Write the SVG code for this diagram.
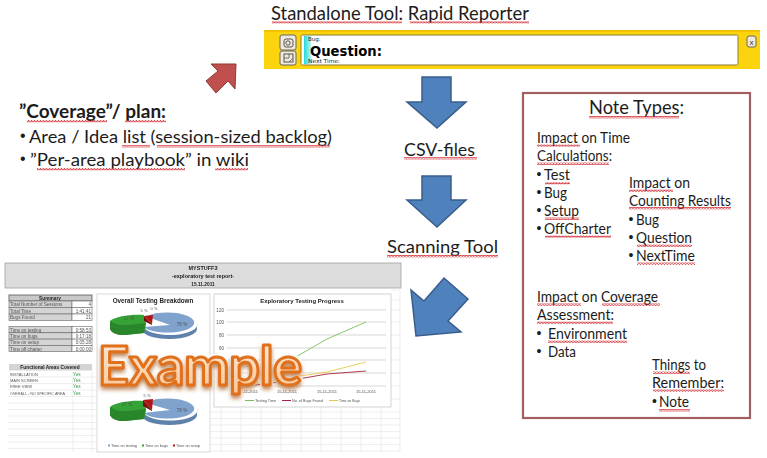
<svg xmlns="http://www.w3.org/2000/svg" width="767" height="458" viewBox="0 0 767 458">
<style>
.t{font-family:"Lato","Liberation Sans",sans-serif;fill:#1c1c1c}
.h{font-size:20px}.b{font-size:18px}.n{font-size:15.5px}
.bb{font-family:"Liberation Sans",sans-serif;font-size:16px;fill:#1c1c1c}
.bn{font-family:"Liberation Sans",sans-serif;font-size:14px;fill:#1c1c1c}
.r{font-family:"Liberation Sans",sans-serif;fill:#555;font-size:4.600px}
.rb{font-family:"Liberation Sans",sans-serif;fill:#222;font-size:6px;font-weight:bold}
.sq{fill:url(#sq)}
.ar{fill:#4f81bd;stroke:#385d8a;stroke-width:1.5}
.g{stroke:#e6e6e6;stroke-width:.7;fill:none}
.gc{stroke:#c4c4c4;stroke-width:.7;fill:none}
.cell{fill:#d4d4d4;stroke:#666;stroke-width:.6}
.val{fill:#fff;stroke:#666;stroke-width:.6}
.btn{fill:#efeadb;stroke:#666;stroke-width:1}
</style>
<defs>
<pattern id="sq" width="3" height="2.4" patternUnits="userSpaceOnUse"><path d="M0 2 L1.500 .5 L3 2" fill="none" stroke="#d0242a" stroke-width=".85"/></pattern>
<linearGradient id="ex" x1="0" y1="0" x2="0" y2="1"><stop offset="0" stop-color="#fdeedd"/><stop offset="1" stop-color="#f9c592"/></linearGradient>
<linearGradient id="cy" x1="0" y1="0" x2="1" y2="0"><stop offset="0" stop-color="#22d8dc"/><stop offset="1" stop-color="#bff4f4"/></linearGradient>
<filter id="glow" x="-10%" y="-20%" width="120%" height="150%"><feDropShadow dx="0" dy="3" stdDeviation="2" flood-color="#a85a1c" flood-opacity=".75"/></filter>
<filter id="soft" x="-5%" y="-5%" width="110%" height="110%"><feGaussianBlur stdDeviation=".35"/></filter>
</defs>
<rect width="767" height="458" fill="#fff"/>

<g id="connectors">
<path class="ar" d="M422 77H451V102H466L437 128L407 102H422Z"/>
<path class="ar" d="M422 176H451V200H466L437 227L407 200H422Z"/>
<path class="ar" d="M444 278L468 299L448 321L461 332L416 336L411 290L424 301Z"/>
<path d="M236 64L235 89L228 81L216 93L206 81L218 71L211 64Z" fill="#c0504d" stroke="#8c3836" stroke-width="1"/>
</g>

<g id="rapid-reporter">
<text class="t h" x="271" y="20" textLength="258" lengthAdjust="spacingAndGlyphs">Standalone Tool: Rapid Reporter</text>
<rect class="sq" x="272" y="21" width="130" height="2.4"/><rect class="sq" x="410" y="21" width="119" height="2.4"/>
<rect x="264" y="30" width="496" height="39" fill="#fbd40e"/>
<rect x="264" y="30" width="496" height="2" fill="#f2c200"/>
<rect x="301" y="35" width="437" height="30" rx="1.5" fill="#fff" stroke="#8a7c30" stroke-width="1"/>
<rect x="304" y="36" width="7" height="28" fill="url(#cy)"/>
<rect class="btn" x="280" y="35" width="16" height="15" rx="2"/>
<rect class="btn" x="280" y="51" width="16" height="14" rx="2"/>
<rect x="284" y="39" width="9" height="8" rx="2" fill="none" stroke="#555"/>
<circle cx="288" cy="43" r="2.2" fill="none" stroke="#555"/>
<rect x="284" y="54" width="9" height="8" fill="none" stroke="#555"/>
<path d="M284 58H289V54M289 62L293 58" fill="none" stroke="#555" stroke-width=".8"/>
<rect class="btn" x="747" y="36" width="9" height="11" rx="2"/>
<text x="751.500" y="45" text-anchor="middle" font-family="'Liberation Sans',sans-serif" font-size="8" fill="#333">x</text>
<text x="308" y="41" font-family="'DejaVu Sans',sans-serif" font-size="5.500" fill="#222">Bug:</text>
<text x="310" y="56" font-family="'DejaVu Sans',sans-serif" font-size="14.500" font-weight="bold" fill="#000" textLength="72" lengthAdjust="spacingAndGlyphs">Question:</text>
<text x="308" y="63" font-family="'DejaVu Sans',sans-serif" font-size="5.500" fill="#222" textLength="32" lengthAdjust="spacingAndGlyphs">Next Time:</text>
</g>

<g id="coverage-plan">
<text class="t b" x="19" y="118" font-weight="bold" textLength="147" lengthAdjust="spacingAndGlyphs">”Coverage”/ plan:</text>
<text class="bb" x="20" y="141">•</text>
<text class="t b" x="29" y="143" textLength="303" lengthAdjust="spacingAndGlyphs">Area / Idea list (session-sized backlog)</text>
<text class="bb" x="20" y="164">•</text>
<text class="t b" x="30" y="166" textLength="219" lengthAdjust="spacingAndGlyphs">”Per-area playbook” in wiki</text>
<rect class="sq" x="27" y="120" width="80" height="2.4"/><rect class="sq" x="125" y="120" width="41" height="2.4"/>
<rect class="sq" x="122" y="145" width="28" height="2.4"/><rect class="sq" x="157" y="145" width="173" height="2.4"/>
<rect class="sq" x="37" y="168" width="148" height="2.4"/><rect class="sq" x="215" y="168" width="33" height="2.4"/>
</g>

<g id="csv-files">
<text class="t b" x="404" y="156" textLength="71" lengthAdjust="spacingAndGlyphs">CSV-files</text>
<rect class="sq" x="404" y="157" width="73" height="2.4"/>
</g>

<g id="scanning-tool">
<text class="t b" x="387" y="253" textLength="111" lengthAdjust="spacingAndGlyphs">Scanning Tool</text>
<rect class="sq" x="387" y="255" width="111" height="2.4"/>
</g>

<g id="note-types">
<rect x="523" y="93" width="227" height="325" fill="#fff" stroke="#a35f5f" stroke-width="2.200"/>
<text class="t h" x="589" y="114" textLength="95" lengthAdjust="spacingAndGlyphs">Note Types:</text>
<rect class="sq" x="589" y="116" width="90" height="2.4"/>
<text class="t n" x="537" y="143" textLength="93" lengthAdjust="spacingAndGlyphs">Impact on Time</text>
<text class="t n" x="537" y="161" textLength="75" lengthAdjust="spacingAndGlyphs">Calculations:</text>
<text class="bn" x="536.500" y="179">•</text><text class="t n" x="544" y="180" textLength="26" lengthAdjust="spacingAndGlyphs">Test</text>
<text class="bn" x="536.500" y="197">•</text><text class="t n" x="544" y="198" textLength="23" lengthAdjust="spacingAndGlyphs">Bug</text>
<text class="bn" x="536.500" y="215">•</text><text class="t n" x="544" y="216" textLength="35" lengthAdjust="spacingAndGlyphs">Setup</text>
<text class="bn" x="536.500" y="233">•</text><text class="t n" x="544" y="234" textLength="67" lengthAdjust="spacingAndGlyphs">OffCharter</text>
<text class="t n" x="629" y="188" textLength="61" lengthAdjust="spacingAndGlyphs">Impact on</text>
<text class="t n" x="629" y="206" textLength="102" lengthAdjust="spacingAndGlyphs">Counting Results</text>
<text class="bn" x="628.500" y="224">•</text><text class="t n" x="636" y="225" textLength="23" lengthAdjust="spacingAndGlyphs">Bug</text>
<text class="bn" x="628.500" y="242">•</text><text class="t n" x="636" y="243" textLength="56" lengthAdjust="spacingAndGlyphs">Question</text>
<text class="bn" x="628.500" y="260">•</text><text class="t n" x="636" y="261" textLength="59" lengthAdjust="spacingAndGlyphs">NextTime</text>
<text class="t n" x="537" y="302" textLength="121" lengthAdjust="spacingAndGlyphs">Impact on Coverage</text>
<text class="t n" x="537" y="320" textLength="77" lengthAdjust="spacingAndGlyphs">Assessment:</text>
<text class="bn" x="536.500" y="338">•</text><text class="t n" x="548" y="339" textLength="79" lengthAdjust="spacingAndGlyphs">Environment</text>
<text class="bn" x="536.500" y="356">•</text><text class="t n" x="548" y="357" textLength="28" lengthAdjust="spacingAndGlyphs">Data</text>
<text class="t n" x="652" y="370" textLength="54" lengthAdjust="spacingAndGlyphs">Things to</text>
<text class="t n" x="652" y="388" textLength="72" lengthAdjust="spacingAndGlyphs">Remember:</text>
<text class="bn" x="652" y="406">•</text><text class="t n" x="659" y="407" textLength="30" lengthAdjust="spacingAndGlyphs">Note</text>
<rect class="sq" x="537" y="144.500" width="43" height="2.4"/>
<rect class="sq" x="537" y="162.500" width="72" height="2.4"/>
<rect class="sq" x="545" y="182" width="25" height="2.4"/>
<rect class="sq" x="545" y="217.500" width="34" height="2.4"/>
<rect class="sq" x="545" y="235.500" width="66" height="2.4"/>
<rect class="sq" x="629" y="189.500" width="44" height="2.4"/>
<rect class="sq" x="629" y="207" width="102" height="2.4"/>
<rect class="sq" x="637" y="244.500" width="55" height="2.4"/>
<rect class="sq" x="637" y="262.500" width="58" height="2.4"/>
<rect class="sq" x="537" y="303.500" width="44" height="2.4"/><rect class="sq" x="602" y="303.500" width="58" height="2.4"/>
<rect class="sq" x="537" y="321.500" width="76" height="2.4"/>
<rect class="sq" x="548" y="340.500" width="79" height="2.4"/>
<rect class="sq" x="653" y="371.500" width="37" height="2.4"/>
<rect class="sq" x="653" y="389.500" width="71" height="2.4"/>
<rect class="sq" x="659" y="409" width="31" height="2.4"/>
</g>

<g id="report" filter="url(#soft)">
<path class="g" d="M8 377H96M8 383.500H96M8 390H96M8 396.500H96M8 403H96M8 409.500H96M8 416H96M8 422.500H96M8 429H96M8 435.500H96M8 442H96M8 448.500H96M73 372V452M92 372V452"/>
<path class="g" d="M210 412H400M210 418.500H400M210 425H400M210 431.500H400M210 438H400M210 444.500H400M210 451H400M221 408V452M241 408V452M261 408V452M281 408V452M301 408V452M321 408V452M341 408V452M361 408V452M381 408V452M400 290V452M391 290H400M391 300H400M391 310H400M391 322H400M391 335H400M391 348H400M391 360H400M391 373H400M391 386H400M391 399H400"/>
<rect x="5" y="263" width="396" height="25" fill="#dcdcdc" stroke="#a0a0a0" stroke-width=".8"/>
<text class="rb" x="203" y="270" text-anchor="middle" style="font-size:5.500px">MYSTUFF3</text>
<text class="rb" x="203" y="278" text-anchor="middle" style="font-size:5.500px">-exploratory test report-</text>
<text class="rb" x="203" y="286" text-anchor="middle" style="font-size:4.800px">15.11.2011</text>

<rect x="9" y="295" width="83" height="6" fill="#c8c8c8" stroke="#555" stroke-width=".8"/>
<text class="rb" x="50" y="300" text-anchor="middle" style="font-size:4.800px">Summary</text>
<rect class="cell" x="9" y="301" width="63" height="6.500"/><rect class="val" x="72" y="301" width="20" height="6.500"/>
<rect class="cell" x="9" y="307.500" width="63" height="6.500"/><rect class="val" x="72" y="307.500" width="20" height="6.500"/>
<rect class="cell" x="9" y="314" width="63" height="6.500"/><rect class="val" x="72" y="314" width="20" height="6.500"/>
<text class="r" x="10" y="306">Total Number of Sessions</text><text class="r" x="91" y="306" text-anchor="end">4</text>
<text class="r" x="10" y="312.500">Total Time</text><text class="r" x="91" y="312.500" text-anchor="end">1:41:41</text>
<text class="r" x="10" y="319">Bugs Found</text><text class="r" x="91" y="319" text-anchor="end">21</text>

<rect class="cell" x="9" y="326.500" width="63" height="6.300"/><rect class="val" x="72" y="326.500" width="20" height="6.300"/>
<rect class="cell" x="9" y="332.800" width="63" height="6.300"/><rect class="val" x="72" y="332.800" width="20" height="6.300"/>
<rect class="cell" x="9" y="339.100" width="63" height="6.300"/><rect class="val" x="72" y="339.100" width="20" height="6.300"/>
<rect class="cell" x="9" y="345.400" width="63" height="6.300"/><rect class="val" x="72" y="345.400" width="20" height="6.300"/>
<text class="r" x="10" y="331.500">Time on testing</text><text class="r" x="91" y="331.500" text-anchor="end">0:58:53</text>
<text class="r" x="10" y="338">Time on bugs</text><text class="r" x="91" y="338" text-anchor="end">0:17:18</text>
<text class="r" x="10" y="344">Time on setup</text><text class="r" x="91" y="344" text-anchor="end">0:05:28</text>
<text class="r" x="10" y="350.500">Time off charter</text><text class="r" x="91" y="350.500" text-anchor="end">0:00:00</text>

<rect x="9" y="364" width="83" height="6.500" fill="#d4d4d4"/>
<text class="rb" x="50" y="369" text-anchor="middle" style="font-size:4.800px">Functional Areas Covered</text>
<text class="r" x="10" y="375.500" style="font-size:4px">INSTALLATION</text><text class="r" x="73" y="375.500" style="fill:#3a9a3a">Yes</text>
<text class="r" x="10" y="381.500" style="font-size:4px">MAIN SCREEN</text><text class="r" x="73" y="381.500" style="fill:#3a9a3a">Yes</text>
<text class="r" x="10" y="388" style="font-size:4px">FREE VIEW</text><text class="r" x="73" y="388" style="fill:#3a9a3a">Yes</text>
<text class="r" x="10" y="394.500" style="font-size:4px" textLength="55" lengthAdjust="spacingAndGlyphs">OVERALL - NO SPECIFIC AREA</text><text class="r" x="73" y="394.500" style="fill:#3a9a3a">Yes</text>

<rect x="97" y="294" width="113" height="158" fill="#fff" stroke="#d0d0d0" stroke-width=".8"/>
<text class="rb" x="153" y="303" text-anchor="middle" style="font-size:6.300px">Overall Testing Breakdown</text>
<path d="M143 326A27 10.500 0 0 0 197 323V329A27 10 0 0 1 170 339A27 10 0 0 1 143 332Z" fill="#5f82ad"/>
<path d="M147 316A27 10 0 1 1 143 327L170 325L153 319Z" fill="#7fa3cd"/>
<path d="M110 321C116 316 132 314 144 315L146 323L144 333L126 335C118 335 112 333 110 329Z" fill="#35a335"/>
<path d="M110 321C118 326 122 326 145 323L146 323L144 333L124 335C116 335 112 333 110 329Z" fill="#2b862b"/>
<path d="M144 316L153 315L152 324Z" fill="#b01818"/><path d="M144 316L152 324V325L144 321Z" fill="#7d1010"/>
<text class="r" x="182" y="326" text-anchor="middle">78 %</text>
<text class="r" x="129" y="320" text-anchor="middle">17 %</text>
<text class="r" x="144" y="312" text-anchor="middle" style="font-size:4px">5 %</text>
<text class="r" x="154" y="310" text-anchor="middle" style="font-size:4px">0 %</text>

<path d="M143 412A27 10 0 0 0 197 409V415A27 10 0 0 1 170 425A27 10 0 0 1 143 418Z" fill="#5f82ad"/>
<path d="M147 402A27 10 0 1 1 143 413L170 410L153 405Z" fill="#7fa3cd"/>
<path d="M110 407C116 402 132 400 144 401L146 409L144 419L126 421C118 421 112 419 110 415Z" fill="#35a335"/>
<path d="M110 407C118 412 122 412 145 409L146 409L144 419L124 421C116 421 112 419 110 415Z" fill="#2b862b"/>
<path d="M143 400L153 399L152 410Z" fill="#b01818"/><path d="M143 400L152 410V411L143 406Z" fill="#7d1010"/>
<text class="r" x="182" y="412" text-anchor="middle">78 %</text>
<text class="r" x="127" y="406" text-anchor="middle">17 %</text>
<text class="r" x="147" y="397" text-anchor="middle" style="font-size:4px">5 %</text>
<rect x="108" y="444.500" width="2" height="2" fill="#7fa3cd"/><text class="r" x="111" y="447" style="font-size:4px" textLength="26" lengthAdjust="spacingAndGlyphs">Time on testing</text>
<rect x="142" y="444.500" width="2" height="2" fill="#35a335"/><text class="r" x="145" y="447" style="font-size:4px" textLength="23" lengthAdjust="spacingAndGlyphs">Time on bugs</text>
<rect x="173" y="444.500" width="2" height="2" fill="#b01818"/><text class="r" x="176" y="447" style="font-size:4px" textLength="24" lengthAdjust="spacingAndGlyphs">Time on setup</text>

<rect x="214" y="294" width="177" height="113" fill="#fff" stroke="#c8c8c8" stroke-width=".8"/>
<text class="rb" x="302" y="303" text-anchor="middle">Exploratory Testing Progress</text>
<path class="gc" d="M227 310H386M227 322H386M227 335H386M227 348H386M227 360H386M227 373H386M227 386H386"/>
<text class="r" x="224" y="312" text-anchor="end">120</text><text class="r" x="224" y="324" text-anchor="end">100</text><text class="r" x="224" y="337" text-anchor="end">80</text><text class="r" x="224" y="350" text-anchor="end">60</text>
<text class="r" x="287" y="393" text-anchor="middle" style="font-size:4px">15-11-2011</text>
<text class="r" x="327" y="393" text-anchor="middle" style="font-size:4px">15-11-2011</text>
<text class="r" x="366" y="393" text-anchor="middle" style="font-size:4px">15-11-2011</text>
<text class="r" x="248" y="393" text-anchor="middle" style="font-size:4px">15-11-2011</text>
<polyline points="248,380 287,362 327,339 366,322" fill="none" stroke="#7bbf5a" stroke-width=".9"/>
<polyline points="248,385 287,378 327,372 366,362" fill="none" stroke="#ecc648" stroke-width=".9"/>
<polyline points="248,386 287,381 327,374 366,371" fill="none" stroke="#a8243a" stroke-width=".9"/>
<path d="M245 400.500H254" stroke="#7bbf5a"/><text class="r" x="255" y="402" style="font-size:4px" textLength="21" lengthAdjust="spacingAndGlyphs">Testing Time</text>
<path d="M282 400.500H291" stroke="#a8243a"/><text class="r" x="292" y="402" style="font-size:4px" textLength="31" lengthAdjust="spacingAndGlyphs">No. of Bugs Found</text>
<path d="M329 400.500H338" stroke="#ecc648"/><text class="r" x="339" y="402" style="font-size:4px" textLength="21" lengthAdjust="spacingAndGlyphs">Time on Bugs</text>
</g>

<g id="example">
<text x="98" y="385" font-family="Lato,'Liberation Sans',sans-serif" font-weight="bold" font-size="54" textLength="204" lengthAdjust="spacingAndGlyphs" fill="none" stroke="#fff" stroke-width="7" stroke-linejoin="round" opacity=".9">Example</text>
<text x="98" y="385" font-family="Lato,'Liberation Sans',sans-serif" font-weight="bold" font-size="54" textLength="204" lengthAdjust="spacingAndGlyphs" fill="url(#ex)" stroke="#e0701f" stroke-width="3" stroke-linejoin="round" filter="url(#glow)">Example</text>
</g>
</svg>
